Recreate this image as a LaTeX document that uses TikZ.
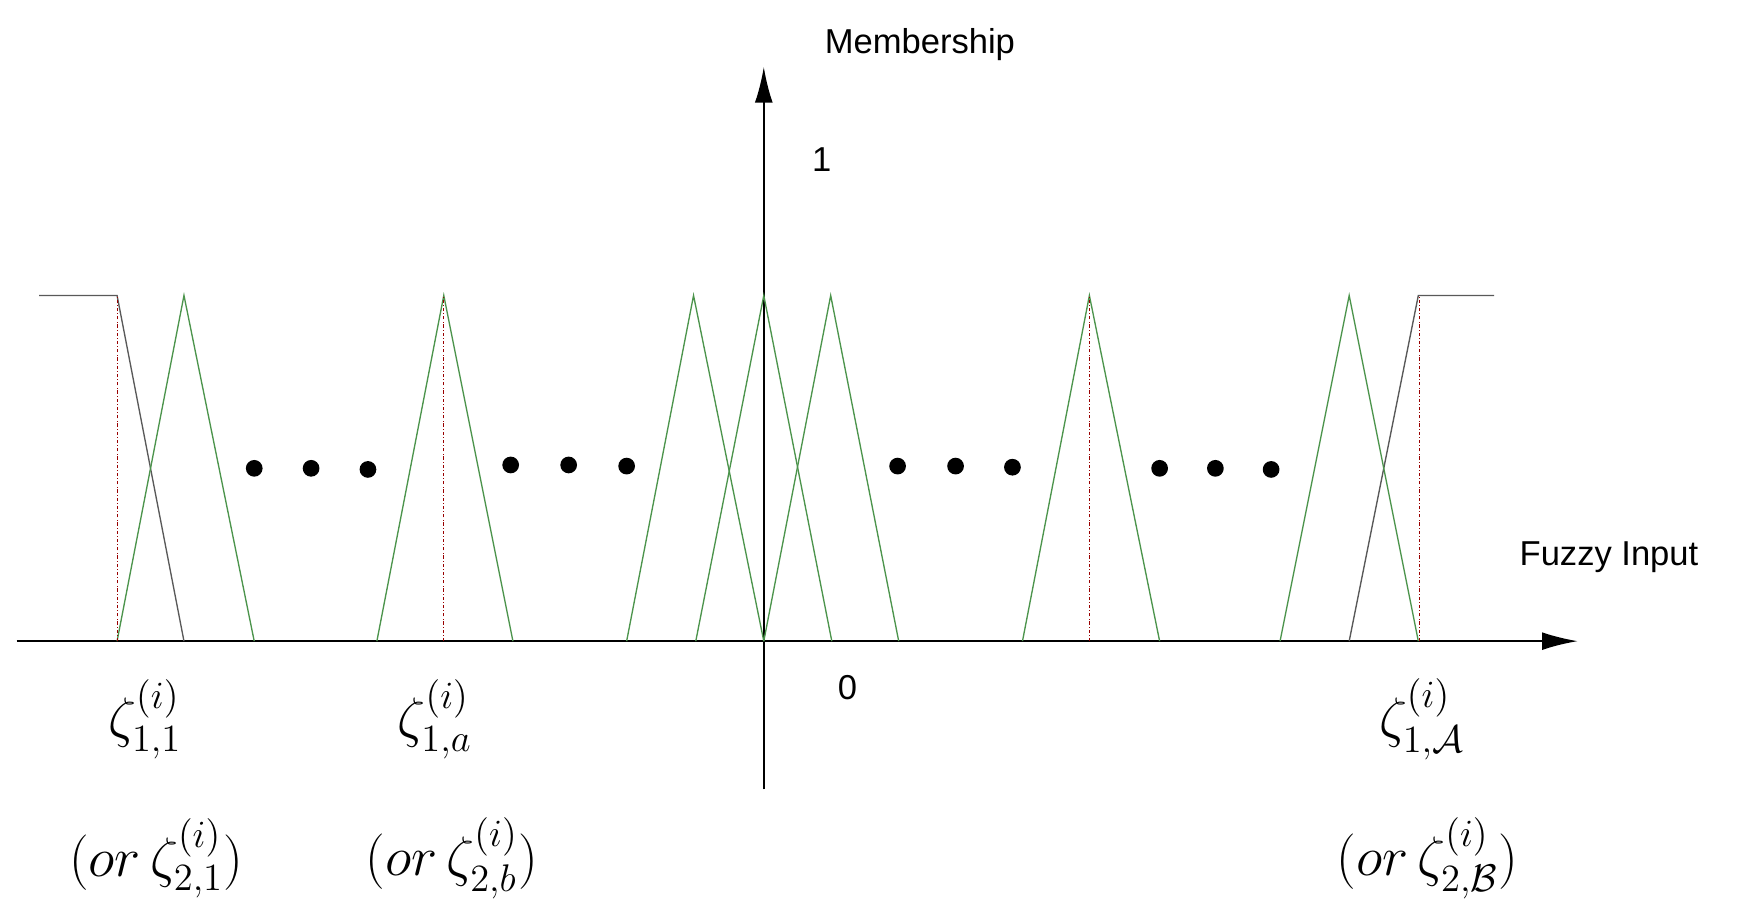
\documentclass[tikz,border=0pt]{standalone}
\usepackage{fontspec}
\setsansfont{Liberation Sans}
\usepackage{amsmath}
\usepackage{graphicx}
\usetikzlibrary{arrows.meta}
\begin{document}
\begin{tikzpicture}[x=1pt,y=-1pt,
  mf/.style={draw=green!40!black!70,line width=1.2pt},
  sh/.style={draw=black!65,line width=1.2pt},
  refl/.style={draw=red!60!black,dash dot,line width=1pt},
  ax/.style={line width=1.6pt,-{Latex[length=32pt,width=16pt]}},
  lab/.style={font=\sffamily\fontsize{31}{35}\selectfont},
  zl/.style={font=\fontsize{20}{24}\selectfont}]
\useasboundingbox (0,0) rectangle (1565,823);
\coordinate (xs) at (15,575); \coordinate (xe) at (1415,575);
\coordinate (ys) at (685,708); \coordinate (ye) at (685,60);
\draw[ax] (xs) -- (xe);
\draw[ax] (ys) -- (ye);
\draw[sh] (35,265) -- (105,265) -- (165,575);
\draw[sh] (1340,265) -- (1272,265) -- (1210,575);
\foreach \a/\p/\b in {105/165/228,338/398/460,562/622/685,624/685/746,685/745/806,917/977/1040,1148/1210/1272}
  \draw[mf] (\a,575) -- (\p,265) -- (\b,575);
\foreach \x in {105,398,977,1273} \draw[refl] (\x,575) -- (\x,265);
\foreach \x/\y in {228/420,279/420,330/421,458/417,510/417,562/418,805/418,857/418,908/419,1040/420,1090/420,1140/421}
  \fill (\x,\y) circle (7.5);
\node[lab] (m) at (825,40) {Membership};
\node[lab] (one) at (737,143) {1};
\node[lab] (fi) at (1443,500) {Fuzzy Input};
\node[lab] (zero) at (760,617) {0};
\node[zl] (z1) at (130,645) {\scalebox{2.4}{$\zeta_{1,1}^{(i)}$}};
\node[zl] (z2) at (390,645) {\scalebox{2.4}{$\zeta_{1,a}^{(i)}$}};
\node[zl] (z3) at (1275,645) {\scalebox{2.4}{$\zeta_{1,\mathcal{A}}^{(i)}$}};
\node[zl] (o1) at (140,770) {\scalebox{2.4}{$(or\,\zeta_{2,1}^{(i)})$}};
\node[zl] (o2) at (405,770) {\scalebox{2.4}{$(or\,\zeta_{2,b}^{(i)})$}};
\node[zl] (o3) at (1280,770) {\scalebox{2.4}{$(or\,\zeta_{2,\mathcal{B}}^{(i)})$}};
\end{tikzpicture}
\end{document}
